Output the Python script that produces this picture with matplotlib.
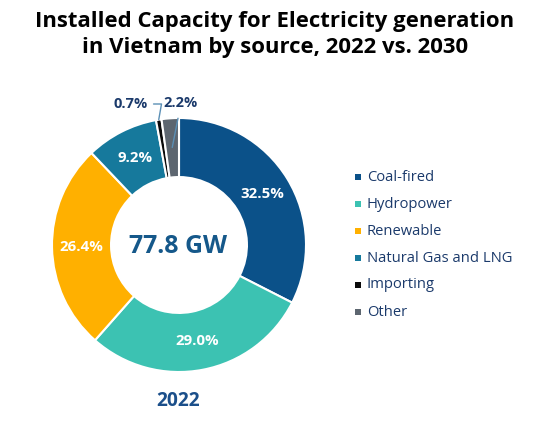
import matplotlib
matplotlib.use("Agg")
import matplotlib.pyplot as plt
import numpy as np

plt.rcParams['font.family'] = ['Open Sans', 'DejaVu Sans']

categories = ["Coal-fired", "Hydropower", "Renewable", "Natural Gas and LNG", "Importing", "Other"]
values = [32.5, 29.0, 26.4, 9.2, 0.7, 2.2]
colors = ["#0b5189", "#3cc2b2", "#ffb000", "#16799c", "#0a0a0a", "#5d6670"]
total_label = "77.8 GW"
year_label = "2022"
title_lines = ["Installed Capacity for Electricity generation",
               "in Vietnam by source, 2022 vs. 2030"]

W, H = 550, 425
fig = plt.figure(figsize=(W / 100, H / 100), dpi=100)
ax = fig.add_axes([0, 0, 1, 1])

cx, cy, R = 179, H - 245, 127
width = 0.465

wedges, _ = ax.pie(values, colors=colors, startangle=90, counterclock=False,
                   center=(cx, cy), radius=R,
                   wedgeprops=dict(width=R * width, edgecolor="white", linewidth=1.5))
ax.set_xlim(0, W)
ax.set_ylim(0, H)
ax.set_aspect("equal")
ax.axis("off")

navy = "#1b3a6b"
line_c = "#5b8fb5"
mid_r = R * (1 - width / 2)
for w, v in zip(wedges, values):
    ang = np.deg2rad((w.theta1 + w.theta2) / 2)
    if v >= 5:
        ax.text(cx + mid_r * np.cos(ang), cy + mid_r * np.sin(ang), f"{v:.1f}%",
                ha="center", va="center", color="white", fontsize=10.8, fontweight="bold")

# small slices with leader lines
w_imp, w_oth = wedges[4], wedges[5]
a_imp = np.deg2rad((w_imp.theta1 + w_imp.theta2) / 2)
a_oth = np.deg2rad((w_oth.theta1 + w_oth.theta2) / 2)
ax.annotate(f"{values[4]:.1f}%", xy=(cx + R * 1.0 * np.cos(a_imp), cy + R * 1.0 * np.sin(a_imp)),
            xytext=(cx - 31, cy + 141), ha="right", va="center",
            color=navy, fontsize=10.5, fontweight="bold",
            arrowprops=dict(arrowstyle="-", color=line_c, lw=1,
                            connectionstyle="angle,angleA=0,angleB=80,rad=0",
                            shrinkA=2, shrinkB=0))
ax.annotate(f"{values[5]:.1f}%", xy=(cx + R * 0.77 * np.cos(a_oth), cy + R * 0.77 * np.sin(a_oth)),
            xytext=(cx + 2, cy + 142), ha="center", va="center",
            color=navy, fontsize=10.5, fontweight="bold",
            arrowprops=dict(arrowstyle="-", color=line_c, lw=1, shrinkA=4, shrinkB=0))

ax.text(cx - 1, H - 246.5, total_label, ha="center", va="center", color="#15588a",
        fontsize=17.9, fontweight="bold")
ax.text(cx - 1, H - 401, year_label, ha="center", va="center", color="#1b4f8a",
        fontsize=13.8, fontweight="bold")

for i, line in enumerate(title_lines):
    fig.text(0.5, 1 - (27.5 + 26 * i) / H, line, ha="center", va="baseline",
             fontsize=15.9, fontweight="bold", color="black")

# legend
lx, ly0, dy = 358, 177, 27
for i, (c, lab) in enumerate(zip(colors, categories)):
    y = H - (ly0 + i * dy)
    ax.scatter([lx], [y], marker="s", s=22, color=c, linewidths=0)
    ax.text(lx + 9, y, lab, ha="left", va="center", color=navy, fontsize=10.6)

fig.savefig("out.png", dpi=100)
